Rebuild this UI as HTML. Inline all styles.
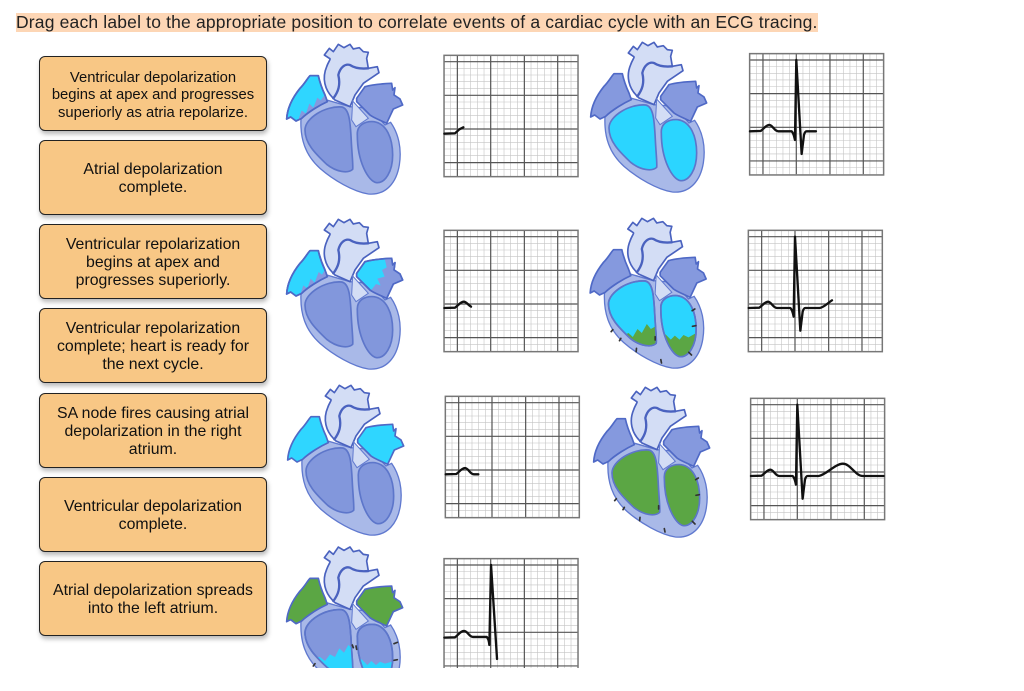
<!DOCTYPE html>
<html>
<head>
<meta charset="utf-8">
<style>
html,body{margin:0;padding:0;background:#fff;width:1024px;height:691px;overflow:hidden}
body{position:relative;font-family:"Liberation Sans",sans-serif;color:#111}
#t{position:absolute;left:16px;top:13px;width:802px;height:19px;background:#fdd6b5;font-size:17.5px;line-height:18px;white-space:nowrap;color:#222;letter-spacing:.17px}
.b{position:absolute;left:39px;width:226px;height:70px;padding-top:3px;background:#f8c785;border:1px solid #222;border-radius:6px;box-shadow:1px 3px 5px rgba(0,0,0,.28);display:flex;align-items:center;justify-content:center;text-align:center;font-size:15.85px;line-height:18px;white-space:nowrap}
.s{font-size:14.8px;line-height:17.2px;height:68px;padding-top:5px}
svg{position:absolute;left:0;top:0}
.bd{fill:#a9b9e8;stroke:#6079cf;stroke-width:4}
.ar{fill:#d3ddf5;stroke:#4a62bf;stroke-width:5;stroke-linejoin:round}
.in{fill:none;stroke:#4a62bf;stroke-width:7;stroke-linecap:round}
.ch{stroke-width:5}
.at{stroke:#4f69c6;stroke-width:5;stroke-linejoin:round}
.tk{stroke:#333;stroke-width:5;stroke-linecap:round}
.mn{stroke:#c4c4c4;stroke-width:1.8;fill:none}
.mj{stroke:#555;stroke-width:3.6;fill:none}
.fr{stroke:#777;stroke-width:4.5;fill:none}
.tr{fill:none;stroke:#111;stroke-width:7;stroke-linejoin:round;stroke-linecap:round}
</style>
</head>
<body>
<div id="t">Drag each label to the appropriate position to correlate events of a cardiac cycle with an ECG tracing.</div>
<div class="b s" style="top:56px"><div>Ventricular depolarization<br>begins at apex and progresses<br>superiorly as atria repolarize.</div></div>
<div class="b" style="top:140px"><div>Atrial depolarization<br>complete.</div></div>
<div class="b" style="top:224px"><div>Ventricular repolarization<br>begins at apex and<br>progresses superiorly.</div></div>
<div class="b" style="top:308px"><div>Ventricular repolarization<br>complete; heart is ready for<br>the next cycle.</div></div>
<div class="b" style="top:393px"><div>SA node fires causing atrial<br>depolarization in the right<br>atrium.</div></div>
<div class="b" style="top:477px"><div>Ventricular depolarization<br>complete.</div></div>
<div class="b" style="top:561px"><div>Atrial depolarization spreads<br>into the left atrium.</div></div>

<svg width="1024" height="691" viewBox="0 0 1024 691">
<defs>
<path id="pra" d="M50,252 C52,215 70,185 90,160 C105,145 112,130 120,122 L145,122 C150,145 158,165 165,180 L172,200 C150,210 115,230 95,250 L78,258 L62,246 Z"/>
<path id="pla" d="M260,190 L285,155 C310,148 340,146 365,145 L368,165 L375,158 L372,180 L390,192 L398,210 L370,222 L350,265 C330,255 310,248 300,240 L260,200 Z"/>
<path id="prv" d="M105,285 C105,250 165,212 215,216 C238,220 241,260 244,320 C246,360 250,395 248,403 C235,416 200,412 170,388 C135,355 105,325 105,285 Z"/>
<path id="plv" d="M262,300 C260,270 285,258 312,260 C350,266 368,310 368,360 C368,410 345,445 320,443 C295,440 262,380 262,300 Z"/>
<clipPath id="cra"><use href="#pra"/></clipPath>
<clipPath id="cla"><use href="#pla"/></clipPath>
<clipPath id="crv"><use href="#prv"/></clipPath>
<clipPath id="clv"><use href="#plv"/></clipPath>
<clipPath id="pg"><rect x="0" y="0" width="1024" height="668"/></clipPath>

<g id="heart">
<path class="bd" d="M93,250 C90,310 105,360 150,400 C190,435 250,470 295,477 C350,482 380,440 388,390 C396,340 385,295 362,262 L345,270 L300,220 L240,215 L170,195 Z"/>
<path class="ar" d="M188,188 C165,165 155,130 170,95 C176,78 184,72 178,70 L163,60 L178,40 L190,50 L205,28 L222,38 L240,28 L250,42 L268,38 L280,50 L295,52 L290,70 L295,100 L322,95 L327,113 L280,145 L255,180 L240,215 L195,195 Z"/>
<path class="in" d="M190,190 C205,170 212,150 205,120 C210,98 225,85 240,90 C255,100 275,102 295,100"/>
<path d="M248,198 L295,250 L258,275 L245,255 Z" fill="#d3ddf5" stroke="#6079cf" stroke-width="3"/>
<use href="#pra" class="at" style="fill:var(--ra)"/>
<use href="#pla" class="at" style="fill:var(--la)"/>
<use href="#prv" class="ch" style="fill:var(--rv);stroke:var(--cs,#5d76ca)"/>
<use href="#plv" class="ch" style="fill:var(--lv);stroke:var(--cs,#5d76ca)"/>
</g>

<g id="tk1">
<path class="tk" d="M113,368 L118,362 M138,395 L142,388 M188,428 L189,418 M245,393 L245,383 M264,462 L262,452 M356,305 L364,300 M357,352 L367,350 M346,430 L354,438"/>
</g>

<g id="grid">
<path class="mn" d="M21,2V363M61,2V363M81,2V363M101,2V363M121,2V363M161,2V363M181,2V363M201,2V363M221,2V363M262,2V363M282,2V363M302,2V363M322,2V363M362,2V363M382,2V363M2,40H402M2,60H402M2,80H402M2,100H402M2,141H402M2,161H402M2,181H402M2,201H402M2,242H402M2,262H402M2,282H402M2,302H402M2,343H402"/>
<path class="mj" d="M41,2V363M141,2V363M242,2V363M342,2V363M2,20H402M2,121H402M2,222H402M2,323H402"/>
<rect class="fr" x="1" y="1" width="402" height="364"/>
</g>
</defs>

<!-- hearts -->
<g transform="translate(270,35) scale(.3333)">
<use href="#heart" style="--ra:#2fd6ff;--la:#8599de;--rv:#8297dc;--lv:#8297dc"/>
<g clip-path="url(#cra)"><path fill="#8599de" d="M82,262 L95,226 L108,236 L118,206 L130,218 L142,188 L152,196 L166,178 L190,210 L110,270 Z"/></g>
<use href="#pra" class="at" style="fill:none"/>
</g>
<g transform="translate(574,33) scale(.3333)">
<use href="#heart" style="--ra:#8599de;--la:#8599de;--rv:#2bd5ff;--lv:#2bd5ff"/>
</g>
<g transform="translate(270,210) scale(.3333)">
<use href="#heart" style="--ra:#2fd6ff;--la:#2fd6ff;--rv:#8297dc;--lv:#8297dc"/>
<g clip-path="url(#cra)"><path fill="#8599de" d="M88,262 L100,226 L112,236 L122,206 L134,218 L146,186 L156,194 L166,178 L190,210 L110,270 Z"/></g>
<g clip-path="url(#cla)"><path fill="#8599de" d="M300,245 L318,222 L332,226 L322,206 L344,200 L336,180 L350,172 L344,145 L410,140 L410,230 L350,275 Z"/></g>
<use href="#pra" class="at" style="fill:none"/>
<use href="#pla" class="at" style="fill:none"/>
</g>
<g transform="translate(573.5,209) scale(.3333)">
<use href="#heart" style="--ra:#8599de;--la:#8599de;--rv:#2bd5ff;--lv:#2bd5ff"/>
<g clip-path="url(#crv)"><path fill="#5ba644" d="M120,362 L140,372 L150,380 L165,372 L178,384 L192,360 L205,372 L220,345 L232,360 L250,350 L250,420 L120,420 Z"/></g>
<g clip-path="url(#clv)"><path fill="#5ba644" d="M262,365 L278,378 L292,392 L304,380 L318,392 L330,378 L345,385 L372,370 L372,450 L262,450 Z"/></g>
<use href="#prv" class="ch" style="fill:none;stroke:#5d76ca"/>
<use href="#plv" class="ch" style="fill:none;stroke:#5d76ca"/>
<use href="#tk1"/>
</g>
<g transform="translate(271,376) scale(.3333)">
<use href="#heart" style="--ra:#2fd6ff;--la:#2fd6ff;--rv:#8297dc;--lv:#8297dc"/>
</g>
<g transform="translate(577,378) scale(.3333)">
<use href="#heart" style="--ra:#8599de;--la:#8599de;--rv:#5ba644;--lv:#5ba644"/>
<use href="#tk1"/>
</g>
<g clip-path="url(#pg)">
<g transform="translate(270,537.7) scale(.3333)">
<use href="#heart" style="--ra:#5ba644;--la:#5ba644;--rv:#8297dc;--lv:#8297dc"/>
<g clip-path="url(#crv)"><path fill="#2bd5ff" d="M130,360 L150,358 L165,370 L180,350 L195,358 L208,332 L222,345 L235,322 L250,335 L250,420 L130,420 Z"/></g>
<g clip-path="url(#clv)"><path fill="#2bd5ff" d="M262,355 L278,368 L292,382 L304,370 L318,382 L330,372 L345,378 L372,370 L372,450 L262,450 Z"/></g>
<use href="#prv" class="ch" style="fill:none;stroke:#5d76ca"/>
<use href="#plv" class="ch" style="fill:none;stroke:#5d76ca"/>
<path class="tk" d="M130,385 L135,378 M247,322 L250,330 M258,325 L260,335 M372,318 L382,314 M372,368 L382,366"/>
</g>
</g>

<!-- grids -->
<g transform="translate(443.7,55) scale(.3333)"><use href="#grid"/>
<path class="tr" d="M2,236 L34,235 L47,223 L59,217"/></g>
<g transform="translate(749.3,53.3) scale(.3333)"><use href="#grid"/>
<path class="tr" d="M2,234 L34,233 C42,228 50,215 60,215 C70,215 75,234 87,234 L127,234 C132,238 135,250 137,260 L141,20 L157,302 L164,245 C166,238 168,234 172,234 L200,234"/></g>
<g transform="translate(443.7,230) scale(.3333)"><use href="#grid"/>
<path class="tr" d="M2,234 L34,233 C42,228 50,215 60,215 C68,215 72,224 82,230"/></g>
<g transform="translate(748,230) scale(.3333)"><use href="#grid"/>
<path class="tr" d="M2,234 L34,233 C42,228 50,215 60,215 C70,215 75,234 87,234 L127,234 C132,238 135,250 137,260 L141,20 L157,302 L164,245 C166,238 168,234 172,234 L215,234 C228,232 238,220 252,211"/></g>
<g transform="translate(445,396) scale(.3333)"><use href="#grid"/>
<path class="tr" d="M2,235 L34,234 C42,229 50,216 60,216 C70,216 75,235 87,235 L100,235"/></g>
<g transform="translate(750.3,398) scale(.3333)"><use href="#grid"/>
<path class="tr" d="M2,234 L34,233 C42,228 50,215 60,215 C70,215 75,234 87,234 L127,234 C132,238 135,250 137,260 L141,20 L157,302 L164,245 C166,238 168,234 172,234 L205,234 C225,232 255,197 278,197 C300,197 315,234 338,234 L400,234"/></g>
<g clip-path="url(#pg)"><g transform="translate(443.7,558.3) scale(.3333)"><use href="#grid"/>
<path class="tr" d="M2,238 L34,237 C42,232 50,218 61,218 C72,218 76,236 88,236 L129,236 C134,240 136,250 137,260 L142,20 L160,302"/></g></g>
</svg>
</body>
</html>
